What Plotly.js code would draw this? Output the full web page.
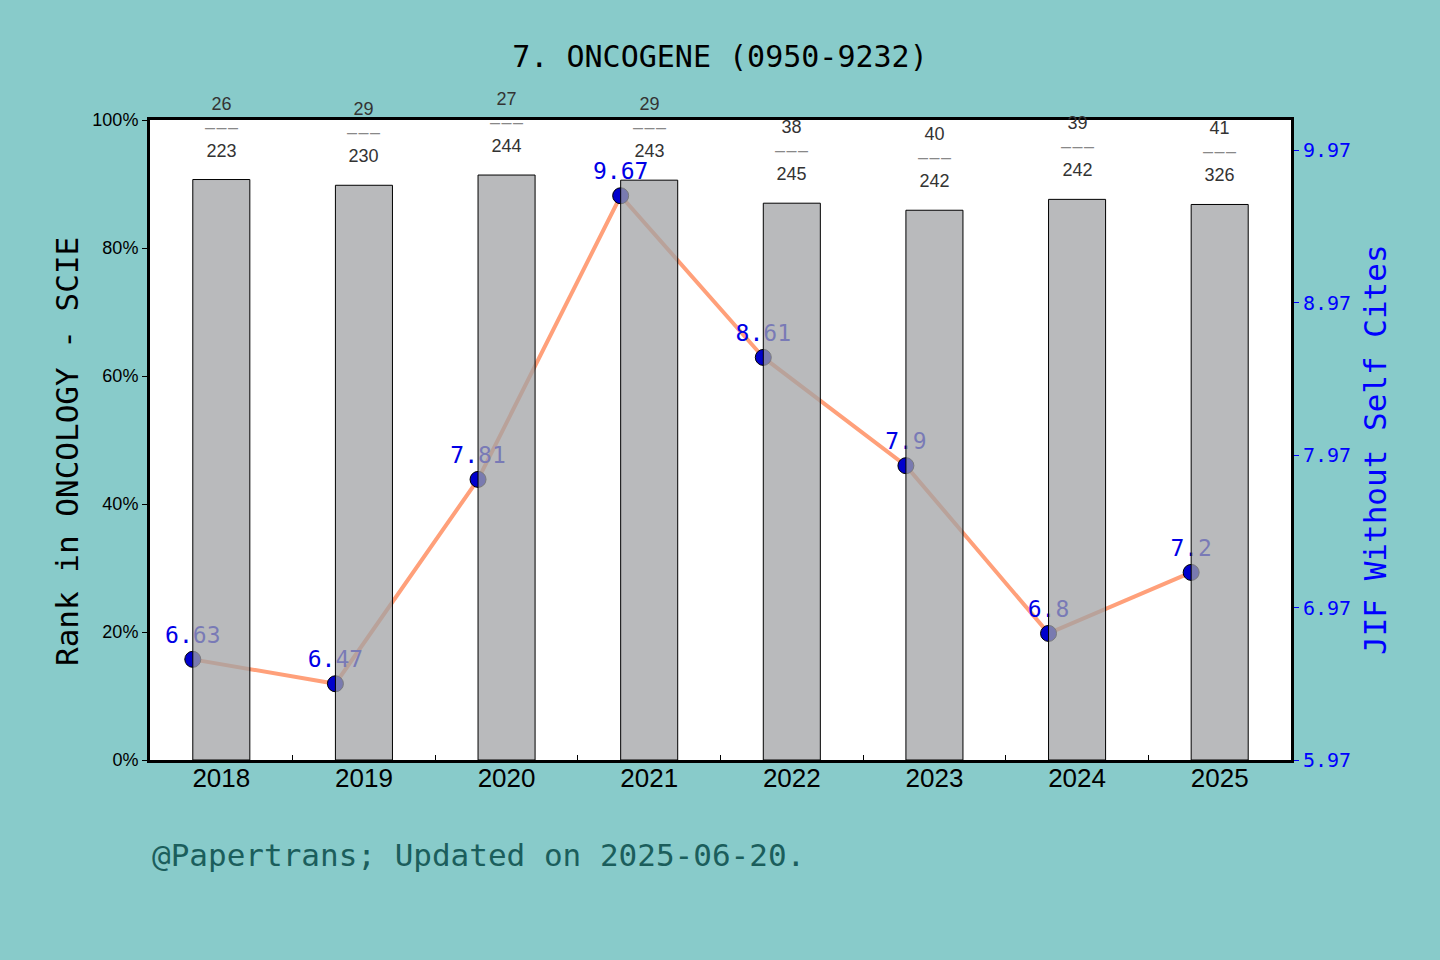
<!DOCTYPE html>
<html>
<head>
<meta charset="utf-8">
<script src="https://cdn.plot.ly/plotly-3.0.1.min.js"></script>
<style>
  html, body { margin: 0; padding: 0; background: #88cbca; }
  #chart { width: 1440px; height: 960px; }
</style>
</head>
<body>
<div id="chart"></div>
<script>
// values
const years = ['2018', '2019', '2020', '2021', '2022', '2023', '2024', '2025'];
const rankPct = [90.7, 89.8, 91.4, 90.6, 87.0, 85.9, 87.6, 86.8];
const jif = [6.63, 6.47, 7.81, 9.67, 8.61, 7.9, 6.8, 7.2];
const jifLabels = ['6.63', '6.47', '7.81', '9.67', '8.61', '7.9', '6.8', '7.2'];
const rankNum = [26, 29, 27, 29, 38, 40, 39, 41];
const rankTotal = [223, 230, 244, 243, 245, 242, 242, 326];
const jifTicks = [5.97, 6.97, 7.97, 8.97, 9.97];
const pctTicks = [0, 20, 40, 60, 80, 100];

const idx = years.map((_, i) => i);
const mono = 'DejaVu Sans Mono, monospace';
const sans = 'Liberation Sans, Arial, sans-serif';
const dashes = '\u2013\u200a\u2013\u200a\u2013';

// line on the base subplot so the bars (overlay) sit on top of it
const line = {
  x: idx,
  y: jif,
  xaxis: 'x',
  yaxis: 'y',
  type: 'scatter',
  mode: 'lines+markers+text',
  text: jifLabels,
  textposition: 'top center',
  textfont: { family: mono, size: 23, color: '#0000e6' },
  line: { color: '#ffa07a', width: 4 },
  marker: { color: '#0000cd', size: 16, line: { color: '#000', width: 1 } },
  cliponaxis: false,
  hoverinfo: 'skip'
};

const bars = {
  x: idx,
  y: rankPct,
  xaxis: 'x',
  yaxis: 'y2',
  type: 'bar',
  width: 0.4,
  offset: 0,
  marker: { color: 'rgba(162,163,166,0.75)', line: { color: '#000', width: 1 } },
  hoverinfo: 'skip'
};

const ratioNotes = idx.map(i => ({
  x: i + 0.2,
  y: rankPct[i],
  xref: 'x',
  yref: 'y2',
  yanchor: 'bottom',
  yshift: 17,
  showarrow: false,
  text: rankNum[i] + '<br><span style="color:#888">' + dashes + '</span><br>' + rankTotal[i],
  font: { family: sans, size: 18, color: '#333' }
}));

const layout = {
  width: 1440,
  height: 960,
  paper_bgcolor: '#88cbca',
  plot_bgcolor: '#ffffff',
  margin: { l: 150, r: 149, t: 120, b: 200 },
  showlegend: false,
  bargap: 0,
  title: {
    text: '7. ONCOGENE (0950-9232)',
    x: 0.5,
    xanchor: 'center',
    y: 1 - 56 / 960,
    yanchor: 'middle',
    font: { family: mono, size: 30, color: '#000' }
  },
  xaxis: {
    range: [-0.3, 7.7],
    tickmode: 'array',
    tickvals: idx.map(i => i + 0.2),
    ticktext: years,
    ticks: '',
    ticklabelstandoff: -7,
    tickfont: { family: sans, size: 26, color: '#000' },
    showline: true,
    linecolor: '#000',
    linewidth: 3,
    mirror: true,
    showgrid: false,
    zeroline: false,
    minor: {
      tickmode: 'array',
      tickvals: idx.slice(0, 7).map(i => i + 0.7),
      ticks: 'inside',
      ticklen: 5,
      tickcolor: '#000',
      showgrid: false
    }
  },
  yaxis: {
    side: 'right',
    range: [5.97, 5.97 + 640 / 152.5],
    tickmode: 'array',
    tickvals: jifTicks,
    ticktext: jifTicks.map(v => v.toFixed(2)),
    ticks: 'outside',
    ticklen: 5,
    tickcolor: '#0000ff',
    tickfont: { family: mono, size: 20, color: '#0000ff' },
    showline: true,
    linecolor: '#000',
    linewidth: 3,
    showgrid: false,
    zeroline: false
  },
  yaxis2: {
    side: 'left',
    overlaying: 'y',
    range: [0, 100],
    tickmode: 'array',
    tickvals: pctTicks,
    ticktext: pctTicks.map(v => v + '%'),
    ticks: 'outside',
    ticklen: 5,
    tickcolor: '#000',
    tickfont: { family: sans, size: 18, color: '#000' },
    showline: true,
    linecolor: '#000',
    linewidth: 3,
    showgrid: false,
    zeroline: false
  },
  annotations: ratioNotes.concat([
    {
      text: 'Rank in ONCOLOGY - SCIE',
      xref: 'paper', yref: 'paper',
      x: -(150 - 67) / 1141, y: (760 - 452) / 640,
      xanchor: 'center', yanchor: 'middle',
      textangle: -90,
      showarrow: false,
      font: { family: mono, size: 31, color: '#000' }
    },
    {
      text: 'JIF Without Self Cites',
      xref: 'paper', yref: 'paper',
      x: 1 + (1375 - 1291) / 1141, y: (760 - 450) / 640,
      xanchor: 'center', yanchor: 'middle',
      textangle: -90,
      showarrow: false,
      font: { family: mono, size: 31, color: '#0000ff' }
    },
    {
      text: '@Papertrans; Updated on 2025-06-20.',
      xref: 'paper', yref: 'paper',
      x: 0, y: -(855 - 760) / 640,
      xanchor: 'left', yanchor: 'middle',
      showarrow: false,
      font: { family: mono, size: 31, color: '#1b5e5c' }
    }
  ])
};

Plotly.newPlot('chart', [line, bars], layout, { displayModeBar: false, staticPlot: true });
</script>
</body>
</html>
